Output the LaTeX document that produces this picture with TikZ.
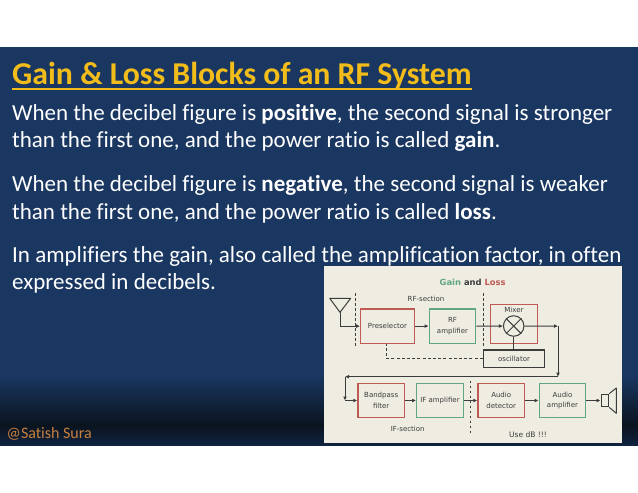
\documentclass[tikz,border=0pt]{standalone}
\usepackage{fontspec}
\setmainfont[Ligatures=NoCommon]{Carlito}
\newfontfamily\diagfont{DejaVu Sans}
\usetikzlibrary{arrows.meta}
\definecolor{slideblue}{HTML}{1A3761}
\definecolor{slidedark}{HTML}{0A141F}
\definecolor{slidelow}{HTML}{10233F}
\definecolor{titlegold}{HTML}{F2BC1B}
\definecolor{panelbg}{HTML}{EFECE2}
\definecolor{lossred}{HTML}{BF5A55}
\definecolor{gaingreen}{HTML}{62A583}
\definecolor{inkgrey}{HTML}{3C3C3C}
\definecolor{credit}{HTML}{C77F3C}
\tikzset{
  bodytext/.style={anchor=base west,inner sep=0pt,text=white,font=\fontsize{23}{26}\selectfont},
  blockbase/.style={draw,line width=1.2pt,align=center,inner sep=0pt,text=inkgrey,font=\diagfont\fontsize{7}{10.5}\selectfont},
  lossblock/.style={blockbase,draw=lossred,minimum width=46.5pt,minimum height=34.4pt},
  gainblock/.style={blockbase,draw=gaingreen,minimum width=46.5pt,minimum height=34.4pt},
  plainblock/.style={blockbase,draw=inkgrey},
  lab/.style={inner sep=0pt,text=inkgrey,font=\diagfont\fontsize{7}{9}\selectfont},
  wire/.style={draw=inkgrey,line width=1pt},
  sig/.style={wire,-{Latex[length=4pt,width=3.8pt]}},
  ctrl/.style={wire,dashed,dash pattern=on 3pt off 2.2pt},
  sect/.style={wire,dash pattern=on 2.5pt off 2.5pt}
}
\begin{document}
\begin{tikzpicture}[x=1pt,y=-1pt]
\useasboundingbox (0,0) rectangle (638,493);
\fill[white] (0,0) rectangle (638,493);
\fill[slideblue] (0,47) rectangle (638,375);
\shade[top color=slideblue,bottom color=slidedark] (0,375) rectangle (638,425);
\shade[top color=slidedark,bottom color=slidelow] (0,425) rectangle (638,445);
% title
\node[anchor=base west,inner sep=0pt,text=titlegold,font=\bfseries\fontsize{31.8}{34}\selectfont] (title) at (12,84.5) {Gain \& Loss Blocks of an RF System};
\draw[titlegold,line width=1.6pt] (title.west |- 0,89) -- (title.east |- 0,89);
% body
\node[bodytext] (l1) at (12,120) {When the decibel figure is \textbf{positive}, the second signal is stronger};
\node[bodytext] (l2) at (12,147) {than the first one, and the power ratio is called \textbf{gain}.};
\node[bodytext] (l3) at (12,191.5) {When the decibel figure is \textbf{negative}, the second signal is weaker};
\node[bodytext] (l4) at (12,219) {than the first one, and the power ratio is called \textbf{loss}.};
\node[bodytext] (l5) at (12,262) {In amplifiers the gain, also called the amplification factor, in often};
\node[bodytext] (l6) at (12,289) {expressed in decibels.};
\node[anchor=base west,inner sep=0pt,text=credit,font=\fontsize{16}{18}\selectfont] (cr) at (6.5,438) {@Satish Sura};
% panel
\fill[panelbg] (324,266) rectangle (622,443);
\node[inner sep=0pt,font=\diagfont\bfseries\fontsize{8.4}{10}\selectfont,text=inkgrey] (dt) at (472.7,282.6) {\textcolor{gaingreen}{Gain} and \textcolor{lossred}{Loss}};
\node[lab] (rfs) at (426,298.5) {RF-section};
\node[lab] (ifs) at (407.7,428.5) {IF-section};
\node[lab,font=\diagfont\fontsize{7.5}{9}\selectfont] (use) at (528,435) {Use dB !!!};
% section markers
\coordinate (s1a) at (355.3,293.3); \coordinate (s1b) at (355.3,347.3);
\coordinate (s2a) at (483.3,293.3); \coordinate (s2b) at (483.3,347.3);
\coordinate (s3a) at (470.3,380.7); \coordinate (s3b) at (470.3,433.3);
\draw[sect] (s1a) -- (s1b);
\draw[sect] (s2a) -- (s2b);
\draw[sect] (s3a) -- (s3b);
% blocks
\node[lossblock,minimum width=53.6pt] (pre) at (387.5,326.1) {Preselector};
\node[gainblock] (rf) at (452.5,326.1) {RF\\amplifier};
\node[lossblock,minimum height=39pt] (mixbox) at (514,323.8) {};
\node[lab] (mixlab) at (514,310.2) {Mixer};
\node[circle,draw=inkgrey,line width=1pt,minimum size=20.5pt,inner sep=0pt] (mix) at (513.7,326) {};
\draw[wire] (mix.45) -- (mix.225) (mix.135) -- (mix.315);
\node[plainblock,minimum width=61.4pt,minimum height=17.3pt] (osc) at (514,358.7) {oscillator};
\node[lossblock] (bp) at (381.2,400.5) {Bandpass\\filter};
\node[gainblock] (ifa) at (440,400.5) {IF amplifier};
\node[lossblock] (det) at (501.2,400.5) {Audio\\detector};
\node[gainblock] (aud) at (562.5,400.5) {Audio\\amplifier};
% antenna
\coordinate (a1) at (329.7,298.3);
\coordinate (a2) at (350.7,298.3);
\coordinate (atip) at (340,312.3);
\coordinate (abend) at (340,326.1);
\draw[wire,line join=round] (a1) -- (a2) -- (atip) -- cycle;
\draw[wire] (atip) -- (abend);
\draw[sig] (abend) -- (pre.west);
% speaker
\node[draw=inkgrey,line width=1pt,minimum width=7.7pt,minimum height=12.7pt,inner sep=0pt] (spk) at (604.9,400.5) {};
\coordinate (cone1) at (616.3,388);
\coordinate (cone2) at (616.3,413.3);
\draw[wire,line join=round] (spk.north east) -- (cone1) -- (cone2) -- (spk.south east);
% connectors
\draw[sig] (pre.east) -- (rf.west);
\draw[sig] (rf.east) -- (mix.west);
\draw[wire] (mix.south) -- (mix.south |- osc.north);
\coordinate (d1) at (386,358);
\draw[ctrl] (osc.west |- d1) -- (d1) -- (d1 |- pre.south);
\coordinate (c1) at (558,326.1);
\coordinate (c2) at (558,376.7);
\coordinate (c3) at (345,376.7);
\coordinate (c4) at (345,400.5);
\draw[sig] (mix.east) -- (c1);
\draw[sig] (c1) -- (c2);
\draw[sig] (c2) -- (c3);
\draw[sig] (c3) -- (c4);
\draw[sig] (c4) -- (bp.west);
\draw[sig] (bp.east) -- (ifa.west);
\draw[sig] (ifa.east) -- (det.west);
\draw[sig] (det.east) -- (aud.west);
\draw[sig] (aud.east) -- (spk.west);
\end{tikzpicture}
\end{document}
